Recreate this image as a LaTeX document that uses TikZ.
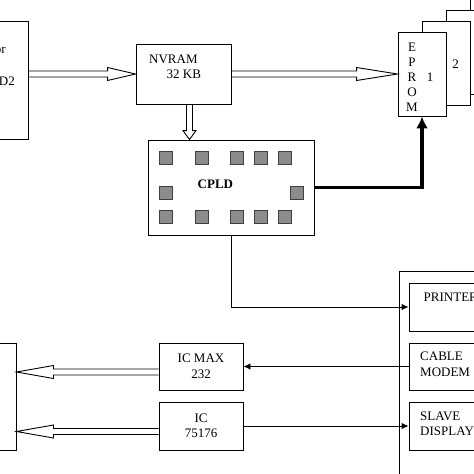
\documentclass[tikz,border=0pt]{standalone}
\usepackage{fontspec}
\setmainfont{Liberation Serif}
\usetikzlibrary{arrows.meta,positioning,calc}

\tikzset{
  blk/.style={draw, line width=0.9pt, fill=white, inner sep=0pt},
  txt/.style={inner sep=0pt, font=\fontsize{13}{15.5}\selectfont},
  pad/.style={draw=black!75, fill=black!45, line width=0.6pt, minimum size=12.5pt, inner sep=0pt},
  sig/.style={line width=0.9pt, -{Latex[length=7pt,width=6.5pt]}},
  hollow/.style={line width=0.9pt, to path={
    ($(\tikztostart)!3pt!-90:(\tikztotarget)$)
    -- ($(\tikztotarget)!#1!(\tikztostart)!3pt!-90:(\tikztotarget)$)
    -- ($(\tikztotarget)!#1!(\tikztostart)!6.5pt!-90:(\tikztotarget)$)
    -- (\tikztotarget)
    -- ($(\tikztotarget)!#1!(\tikztostart)!6.5pt!90:(\tikztotarget)$)
    -- ($(\tikztotarget)!#1!(\tikztostart)!3pt!90:(\tikztotarget)$)
    -- ($(\tikztostart)!3pt!90:(\tikztotarget)$)}}
}

\begin{document}
\begin{tikzpicture}[x=1pt,y=-1pt]
\useasboundingbox (0,0) rectangle (474,474);
\clip (0,0) rectangle (474,474);

% controller, cut by the page edge
\node[blk, minimum width=96, minimum height=118] (mcu) at (-20,80) {};
\node[txt, anchor=base east] (mcua) at (6,53) {or};
\node[txt, anchor=base east] (mcub) at (15,85) {D2};

% NVRAM
\node[blk, minimum width=95, minimum height=60] (nvram) at (183.5,74) {};
\node[txt, anchor=base west] (nvramtxt) at (149,63) {NVRAM};
\node[txt, anchor=base west] (kbtxt) at (166.5,78.5) {32 KB};

% EPROM stack
\foreach \i in {4,3,2,1}
  \node[blk, minimum width=48, minimum height=84] (ep\i) at ({422+24*(\i-1)},{74-11*(\i-1)}) {};
\node[txt, align=center, font=\fontsize{13}{15}\selectfont] (eprom) at (412,77.2) {E\\P\\R\\O\\M};
\node[txt, anchor=base] (one) at (430,81) {1};
\node[txt, anchor=base] (two) at (455.5,68.5) {2};

% CPLD with pads
\node[blk, minimum width=166, minimum height=95] (cpld) at (231,187.5) {};
\node[txt, anchor=base west, font=\bfseries\fontsize{13}{15.5}\selectfont] (cpldtxt) at (197.5,188) {CPLD};
\foreach \x in {166,202,237,261,285} {
  \node[pad] (pt\x) at (\x,158) {};
  \node[pad] (pb\x) at (\x,217) {};
}
\node[pad] (pl) at (166,193) {};
\node[pad] (pr) at (297,193) {};

% peripherals
\node[blk, minimum width=120, minimum height=240] (io) at (459,391) {};
\node[blk, minimum width=90, minimum height=48] (printer) at (454,307) {};
\node[blk, minimum width=90, minimum height=47] (modem) at (454,366.5) {};
\node[blk, minimum width=90, minimum height=48] (slave) at (454,426) {};
\node[txt, anchor=base west] (printtxt) at (423.5,301) {PRINTER};
\node[txt, anchor=west, align=left] (modemtxt) at (420,364.2) {CABLE\\MODEM};
\node[txt, anchor=west, align=left] (slavetxt) at (420,423.7) {SLAVE\\DISPLAY};

% line drivers
\node[blk, txt, minimum width=84, minimum height=47, align=center] (icmax) at (201,366.5) {IC MAX\\232};
\node[blk, txt, minimum width=84, minimum height=48, align=center] (ic75) at (201,426) {IC\\75176};
\node[blk, minimum width=92, minimum height=107] (host) at (-30,396.5) {};

% connections
\coordinate (m0) at (mcu.east |- nvram.west);
\draw[hollow=28pt] (m0) to (nvram.west);
\draw[hollow=41pt] (nvram.east) to (ep1.west);
\coordinate (n0) at ([xshift=6pt]nvram.south);
\draw[hollow=9pt] (n0) to (n0 |- cpld.north);
\draw[line width=3.5pt, -{Latex[length=12pt,width=12pt]}] (cpld.east) -| (ep1.south);
\draw[sig] (cpld.south) |- (printer.west);
\draw[sig] (modem.west) -- (icmax.east);
\draw[sig] (ic75.east) -- (slave.west);
\coordinate (d1) at ([yshift=-5.5pt]icmax.west);
\coordinate (d2) at ([yshift=-5.5pt]ic75.west);
\draw[hollow=37pt] (d1) to (host.east |- d1);
\draw[hollow=37pt] (d2) to (host.east |- d2);
\end{tikzpicture}
\end{document}
